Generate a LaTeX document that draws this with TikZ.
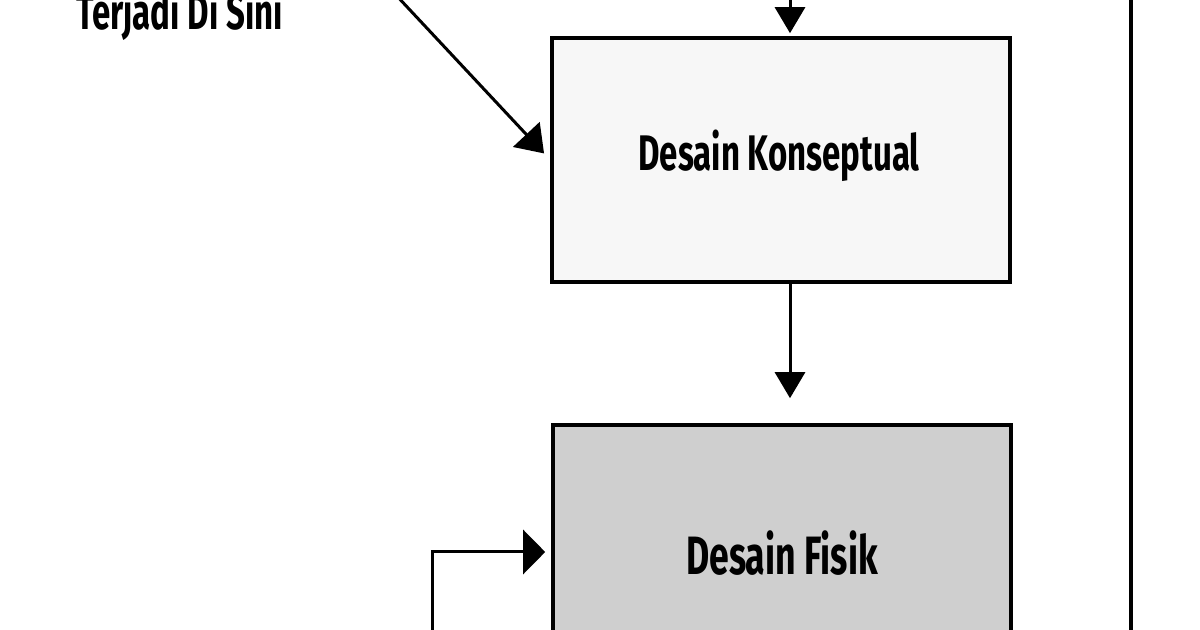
\documentclass[tikz,border=0pt]{standalone}
\usepackage{fontspec}
\setmainfont{Fira Sans}
\newfontfamily\condfont[FakeStretch=0.66]{Fira Sans}
\usetikzlibrary{arrows.meta}
\tikzset{
  boxnode/.style={draw=black, line width=1.8pt, rectangle, minimum width=229pt, inner sep=0pt},
  lbl/.style={font=\condfont\bfseries\fontsize{25}{28}\selectfont, text=black},
  conn/.style={line width=1.5pt, draw=black},
  tipa/.style={-{Triangle[length=13pt,width=18pt]}},
  tipd/.style={-{Triangle[length=13pt,width=15pt]}},
  tipl/.style={-{Triangle[length=11pt,width=22pt]}}
}
\begin{document}
\begin{tikzpicture}[x=0.5pt,y=-0.5pt]
\useasboundingbox (0,0) rectangle (1200,630);
\fill[white] (0,0) rectangle (1200,630);
% boxes
\node[boxnode, minimum height=122pt, fill=black!3] (k) at (781,160) {};
\node[lbl] (kt) at (779,156) {Desain Konseptual};
\node[boxnode, minimum height=130pt, fill=black!19] (f) at (782,555) {};
\node[lbl, font=\condfont\bfseries\fontsize{27}{30}\selectfont] (ft) at (782,553) {Desain Fisik};
\node[lbl, anchor=base west, inner sep=0pt] (tj) at (76,30) {Terjadi Di Sini};
% free ends
\coordinate (a0) at (395,-6);
\coordinate (t0) at (790,-6);
\coordinate (l0) at (432,640);
\coordinate (r0) at (1131,-6);
\coordinate (r1) at (1131,640);
% connectors
\draw[conn, tipa, shorten >=4.5pt] (a0) -- (k.west);
\draw[conn, tipd, shorten >=1.5pt] (t0) -- (t0 |- k.north);
\draw[conn, tipd, shorten >=12.5pt] (t0 |- k.south) -- (t0 |- f.north);
\draw[conn, tipl, shorten >=3pt] (l0) |- ([yshift=1.5pt]f.west);
\draw[line width=1.6pt] (r0) -- (r1);
\end{tikzpicture}
\end{document}
